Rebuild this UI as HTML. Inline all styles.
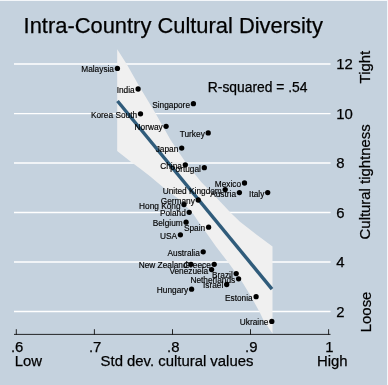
<!DOCTYPE html>
<html><head><meta charset="utf-8"><title>Intra-Country Cultural Diversity</title>
<style>
html,body{margin:0;padding:0;background:#c5d2de;}
body{width:388px;height:385px;overflow:hidden;}
svg{display:block;}
text{font-family:"Liberation Sans",Arial,sans-serif;fill:#000;stroke:#000;stroke-width:0.25px;}
.ax{font-size:14.9px;}
.lab{font-size:8.3px;text-anchor:end;stroke-width:0.15px;}
</style></head><body>
<svg width="388" height="385" viewBox="0 0 388 385">
<rect x="0" y="0" width="388" height="385" fill="#c5d2de"/>
<rect x="0" y="0" width="388" height="1" fill="#f4f7fa"/>
<rect x="387" y="0" width="1" height="385" fill="#f4f7fa"/>
<g style="filter:blur(0.35px)">

<line x1="14" x2="330.5" y1="64.0" y2="64.0" stroke="#fff" stroke-width="1.35"/>
<line x1="14" x2="330.5" y1="113.6" y2="113.6" stroke="#fff" stroke-width="1.35"/>
<line x1="14" x2="330.5" y1="163.0" y2="163.0" stroke="#fff" stroke-width="1.35"/>
<line x1="14" x2="330.5" y1="212.5" y2="212.5" stroke="#fff" stroke-width="1.35"/>
<line x1="14" x2="330.5" y1="262.0" y2="262.0" stroke="#fff" stroke-width="1.35"/>
<line x1="14" x2="330.5" y1="311.5" y2="311.5" stroke="#fff" stroke-width="1.35"/>
<polygon points="117.2,49.2 127.1,64.8 138.5,85 155.6,113.4 170.6,140 186.4,163.4 201.2,182 215.6,196.8 230.4,212.4 240,221.8 257,235 272.5,246.4 272.5,333.6 270.4,330.5 263.4,320 259.2,311.2 250.4,295.6 241.6,281 229.8,264.5 222.5,255 215.8,246.2 205.4,231.6 199.1,222.8 192.3,212.5 180.4,200.2 163.4,187.6 150,176.3 140,168.6 130.5,161.5 117.2,151.0" fill="#f0f0f0"/>
<line x1="117.5" y1="101" x2="272" y2="289.1" stroke="#305c7b" stroke-width="3.4"/>
<line x1="14" x2="330.5" y1="334.4" y2="334.4" stroke="#111" stroke-width="0.9"/>
<line x1="16.3" x2="16.3" y1="329.2" y2="334.8" stroke="#111" stroke-width="0.9"/>
<line x1="94.4" x2="94.4" y1="329.2" y2="334.8" stroke="#111" stroke-width="0.9"/>
<line x1="172.5" x2="172.5" y1="329.2" y2="334.8" stroke="#111" stroke-width="0.9"/>
<line x1="250.5" x2="250.5" y1="329.2" y2="334.8" stroke="#111" stroke-width="0.9"/>
<line x1="328.6" x2="328.6" y1="329.2" y2="334.8" stroke="#111" stroke-width="0.9"/>
<circle cx="117.4" cy="68.4" r="2.65" fill="#000"/>
<circle cx="138.1" cy="89.0" r="2.65" fill="#000"/>
<circle cx="193.4" cy="103.7" r="2.65" fill="#000"/>
<circle cx="140.5" cy="113.8" r="2.65" fill="#000"/>
<circle cx="166.1" cy="126.3" r="2.65" fill="#000"/>
<circle cx="208.2" cy="132.9" r="2.65" fill="#000"/>
<circle cx="181.7" cy="148.1" r="2.65" fill="#000"/>
<circle cx="185.3" cy="164.8" r="2.65" fill="#000"/>
<circle cx="204.3" cy="167.7" r="2.65" fill="#000"/>
<circle cx="244.5" cy="183.0" r="2.65" fill="#000"/>
<circle cx="225.2" cy="189.6" r="2.65" fill="#000"/>
<circle cx="239.4" cy="192.6" r="2.65" fill="#000"/>
<circle cx="267.7" cy="192.6" r="2.65" fill="#000"/>
<circle cx="198.2" cy="200.0" r="2.65" fill="#000"/>
<circle cx="184.0" cy="204.6" r="2.65" fill="#000"/>
<circle cx="189.2" cy="212.3" r="2.65" fill="#000"/>
<circle cx="186.1" cy="222.2" r="2.65" fill="#000"/>
<circle cx="208.6" cy="227.2" r="2.65" fill="#000"/>
<circle cx="180.4" cy="234.8" r="2.65" fill="#000"/>
<circle cx="203.2" cy="251.8" r="2.65" fill="#000"/>
<circle cx="191.0" cy="264.3" r="2.65" fill="#000"/>
<circle cx="214.2" cy="264.3" r="2.65" fill="#000"/>
<circle cx="211.6" cy="269.6" r="2.65" fill="#000"/>
<circle cx="236.2" cy="273.6" r="2.65" fill="#000"/>
<circle cx="238.6" cy="278.8" r="2.65" fill="#000"/>
<circle cx="226.7" cy="284.5" r="2.65" fill="#000"/>
<circle cx="191.6" cy="289.2" r="2.65" fill="#000"/>
<circle cx="256.1" cy="296.7" r="2.65" fill="#000"/>
<circle cx="271.8" cy="321.4" r="2.65" fill="#000"/>
<text class="lab" x="114.0" y="72.3">Malaysia</text>
<text class="lab" x="134.7" y="92.9">India</text>
<text class="lab" x="190.0" y="107.6">Singapore</text>
<text class="lab" x="137.1" y="117.7">Korea South</text>
<text class="lab" x="162.7" y="130.2">Norway</text>
<text class="lab" x="204.8" y="136.8">Turkey</text>
<text class="lab" x="178.3" y="152.0">Japan</text>
<text class="lab" x="181.9" y="168.7">China</text>
<text class="lab" x="200.9" y="171.6">Portugal</text>
<text class="lab" x="241.1" y="186.9">Mexico</text>
<text class="lab" x="221.8" y="193.5">United Kingdom</text>
<text class="lab" x="236.0" y="196.5">Austria</text>
<text class="lab" x="264.3" y="196.5">Italy</text>
<text class="lab" x="194.8" y="203.9">Germany</text>
<text class="lab" x="180.6" y="208.5">Hong Kong</text>
<text class="lab" x="185.8" y="216.2">Poland</text>
<text class="lab" x="182.7" y="226.1">Belgium</text>
<text class="lab" x="205.2" y="231.1">Spain</text>
<text class="lab" x="177.0" y="238.7">USA</text>
<text class="lab" x="199.8" y="255.7">Australia</text>
<text class="lab" x="187.6" y="268.2">New Zealand</text>
<text class="lab" x="210.8" y="268.2">Greece</text>
<text class="lab" x="208.2" y="273.5">Venezuela</text>
<text class="lab" x="232.8" y="277.5">Brazil</text>
<text class="lab" x="235.2" y="282.7">Netherlands</text>
<text class="lab" x="223.3" y="288.4">Israel</text>
<text class="lab" x="188.2" y="293.1">Hungary</text>
<text class="lab" x="252.7" y="300.6">Estonia</text>
<text class="lab" x="268.4" y="325.3">Ukraine</text>
<text x="23.6" y="33.1" font-size="21.9" stroke-width="0.35">Intra-Country Cultural Diversity</text>
<text x="207.8" y="91.6" font-size="13.85">R-squared = .54</text>
<text class="ax" x="336.3" y="69.4">12</text>
<text class="ax" x="336.3" y="119.0">10</text>
<text class="ax" x="336.3" y="168.4">8</text>
<text class="ax" x="336.3" y="217.9">6</text>
<text class="ax" x="336.3" y="267.4">4</text>
<text class="ax" x="336.3" y="316.9">2</text>
<text class="ax" x="17.1" y="351.7" text-anchor="middle">.6</text>
<text class="ax" x="95.2" y="351.7" text-anchor="middle">.7</text>
<text class="ax" x="173.3" y="351.7" text-anchor="middle">.8</text>
<text class="ax" x="251.3" y="351.7" text-anchor="middle">.9</text>
<text class="ax" x="329.4" y="351.7" text-anchor="middle">1</text>
<text class="ax" x="14.8" y="366.4">Low</text>
<text class="ax" x="177" y="366.4" text-anchor="middle">Std dev. cultural values</text>
<text class="ax" x="332.3" y="366.3" text-anchor="middle">High</text>
<text class="ax" transform="translate(370.4,83.4) rotate(-90)">Tight</text>
<text class="ax" transform="translate(370.4,239.4) rotate(-90)">Cultural tightness</text>
<text class="ax" transform="translate(370.6,332.2) rotate(-90)">Loose</text>
</g>
</svg></body></html>
